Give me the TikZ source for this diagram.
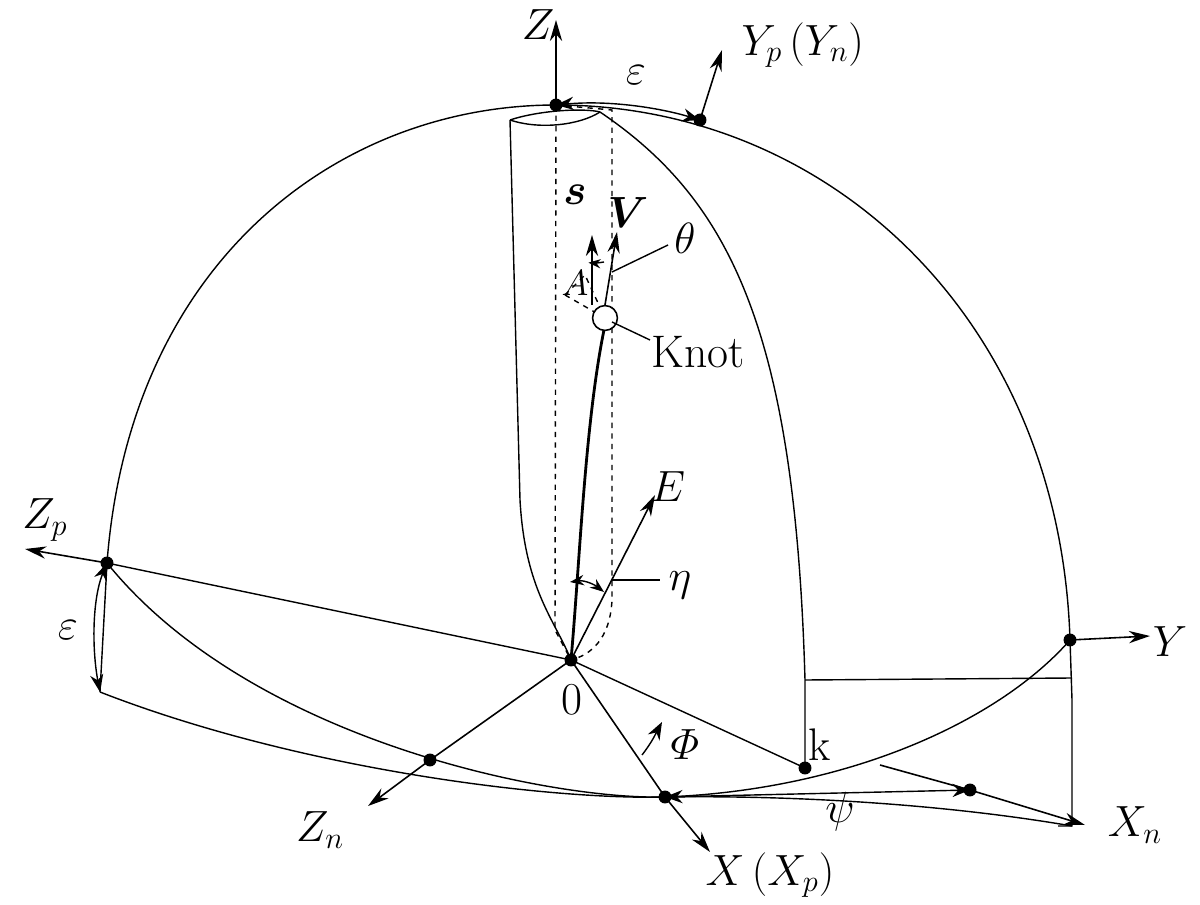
\documentclass[tikz,border=0pt]{standalone}
\usepackage{amsmath,bm}
\usetikzlibrary{arrows.meta}
\tikzset{
  ax/.style={-{Stealth[length=12pt,width=7pt]}, line width=0.9pt},
  dot/.style={circle, fill=black, inner sep=2.6pt},
  lbl/.style={font=\fontsize{26}{28}\selectfont},
}
\begin{document}
\begin{tikzpicture}[x=0.02cm, y=-0.02cm, line width=0.8pt]
	\useasboundingbox (0,0) rectangle (1200,905);
	% points
	\coordinate (T) at (556,105);
	\coordinate (E1) at (700,120);
	\coordinate (ZP) at (107,563);
	\coordinate (O) at (571,660);
	\coordinate (ZN) at (430,760);
	\coordinate (XP) at (665,797);
	\coordinate (K) at (805,768);
	\coordinate (XN) at (970,790);
	\coordinate (YP) at (1070,640);
	\coordinate (BL) at (100,692);
	\coordinate (BR) at (1072,826);
	% dome
	\draw (ZP) .. controls (130,260) and (340,105) .. (T)
		.. controls (830,105) and (1060,320) .. (YP);
	\draw (ZP) .. controls (250,740) and (550,800) .. (XP)
		.. controls (850,790) and (1000,720) .. (YP);
	\draw (BL) .. controls (300,770) and (550,800) .. (XP) .. controls (800,795) and (950,805) .. (BR);
	\draw (YP) -- (1072,700) -- (BR) -- (1058,826);
	\draw (ZP) -- (BL);
	% meridian and strip
	\draw (600,112) .. controls (730,200) and (795,330) .. (805,680) -- (K);
	\draw (805,680) -- (1072,678);
	\draw (510,120) .. controls (540,110) and (585,108) .. (600,112);
	\draw (510,120) .. controls (540,130) and (580,125) .. (600,112);
	\draw (510,120) -- (520,500) .. controls (525,590) and (555,620) .. (O);
	% dashed
	\draw[dashed] (T) -- (612,110) -- (612,600) .. controls (610,640) and (590,655) .. (O);
	\draw[dashed] (T) -- (555,630) -- (O);
	\draw[dashed] (565,295) -- (585,275) -- (605,318);
	\draw[dashed] (565,295) -- (605,318);
	% lines from origin
	\draw (ZP) -- (O) -- (K);
	\draw[ax] (O) -- (XP) -- (710,852);
	\draw[ax] (O) -- (ZN) -- (368,806);
	\draw[ax] (ZP) -- (25,549);
	\draw[ax] (YP) -- (1150,636);
	\draw[ax] (T) -- (556,20);
	\draw[ax] (E1) -- (722,50);
	\draw[ax] (880,765) -- (XN) -- (1085,825);
	\draw[ax] (O) -- (655,495);
	% knot
	\draw[line width=1.6pt] (605,325) .. controls (585,420) and (580,560) .. (O);
	\node[circle, draw, fill=white, inner sep=5pt, line width=0.9pt] (knot) at (605,318) {};
	\draw[ax] (592,305) -- (592,235);
	\draw[ax] (605,305) -- (617,232);
	\draw (612,322) -- (650,340);
	\draw (668,245) -- (612,272);
	\draw[-{Stealth[length=7pt]}] (604,262) arc (80:95:60);
	% measures
	\draw[{Stealth[length=10pt]}-{Stealth[length=10pt]}] (T) .. controls (610,100) and (660,108) .. (E1);
	\draw[{Stealth[length=10pt]}-{Stealth[length=10pt]}] (ZP) .. controls (92,600) and (92,650) .. (BL);
	\draw[{Stealth[length=10pt]}-{Stealth[length=10pt]}] (XP) -- (XN);
	\draw[-{Stealth[length=10pt]}] (642,755) .. controls (652,742) and (655,735) .. (662,722);
	\draw[{Stealth[length=8pt]}-{Stealth[length=8pt]}] (570,582) .. controls (585,580) and (595,585) .. (604,592);
	\draw (612,580) -- (660,580);
	% dots
	\foreach \p in {T,E1,ZP,O,ZN,XP,K,XN,YP} \node[dot] at (\p) {};
	% labels
	\node[lbl] (lZ) at (538,25) {$Z$};
	\node[lbl, anchor=west] (lYp) at (735,45) {$Y_p\,(Y_n)$};
	\node[lbl] (leps) at (636,75) {$\varepsilon$};
	\node[lbl] (ls) at (575,195) {$\bm{s}$};
	\node[lbl] (lV) at (628,213) {$\bm{V}$};
	\node[lbl] (lth) at (685,238) {$\theta$};
	\node[lbl, font=\fontsize{20}{22}\selectfont] (lA) at (575,283) {$A$};
	\node[lbl, anchor=west] (lknot) at (645,352) {Knot};
	\node[lbl] (lE) at (668,487) {$E$};
	\node[lbl] (leta) at (680,585) {$\eta$};
	\node[lbl] (lZp) at (45,520) {$Z_p$};
	\node[lbl] (leps2) at (68,630) {$\varepsilon$};
	\node[lbl] (lY) at (1170,642) {$Y$};
	\node[lbl] (l0) at (572,700) {0};
	\node[lbl] (lPhi) at (685,745) {$\varPhi$};
	\node[lbl] (lk) at (820,745) {k};
	\node[lbl] (lZn) at (320,830) {$Z_n$};
	\node[lbl] (lpsi) at (840,812) {$\psi$};
	\node[lbl] (lX) at (770,875) {$X\,(X_p)$};
	\node[lbl] (lXn) at (1135,825) {$X_n$};
\end{tikzpicture}
\end{document}
